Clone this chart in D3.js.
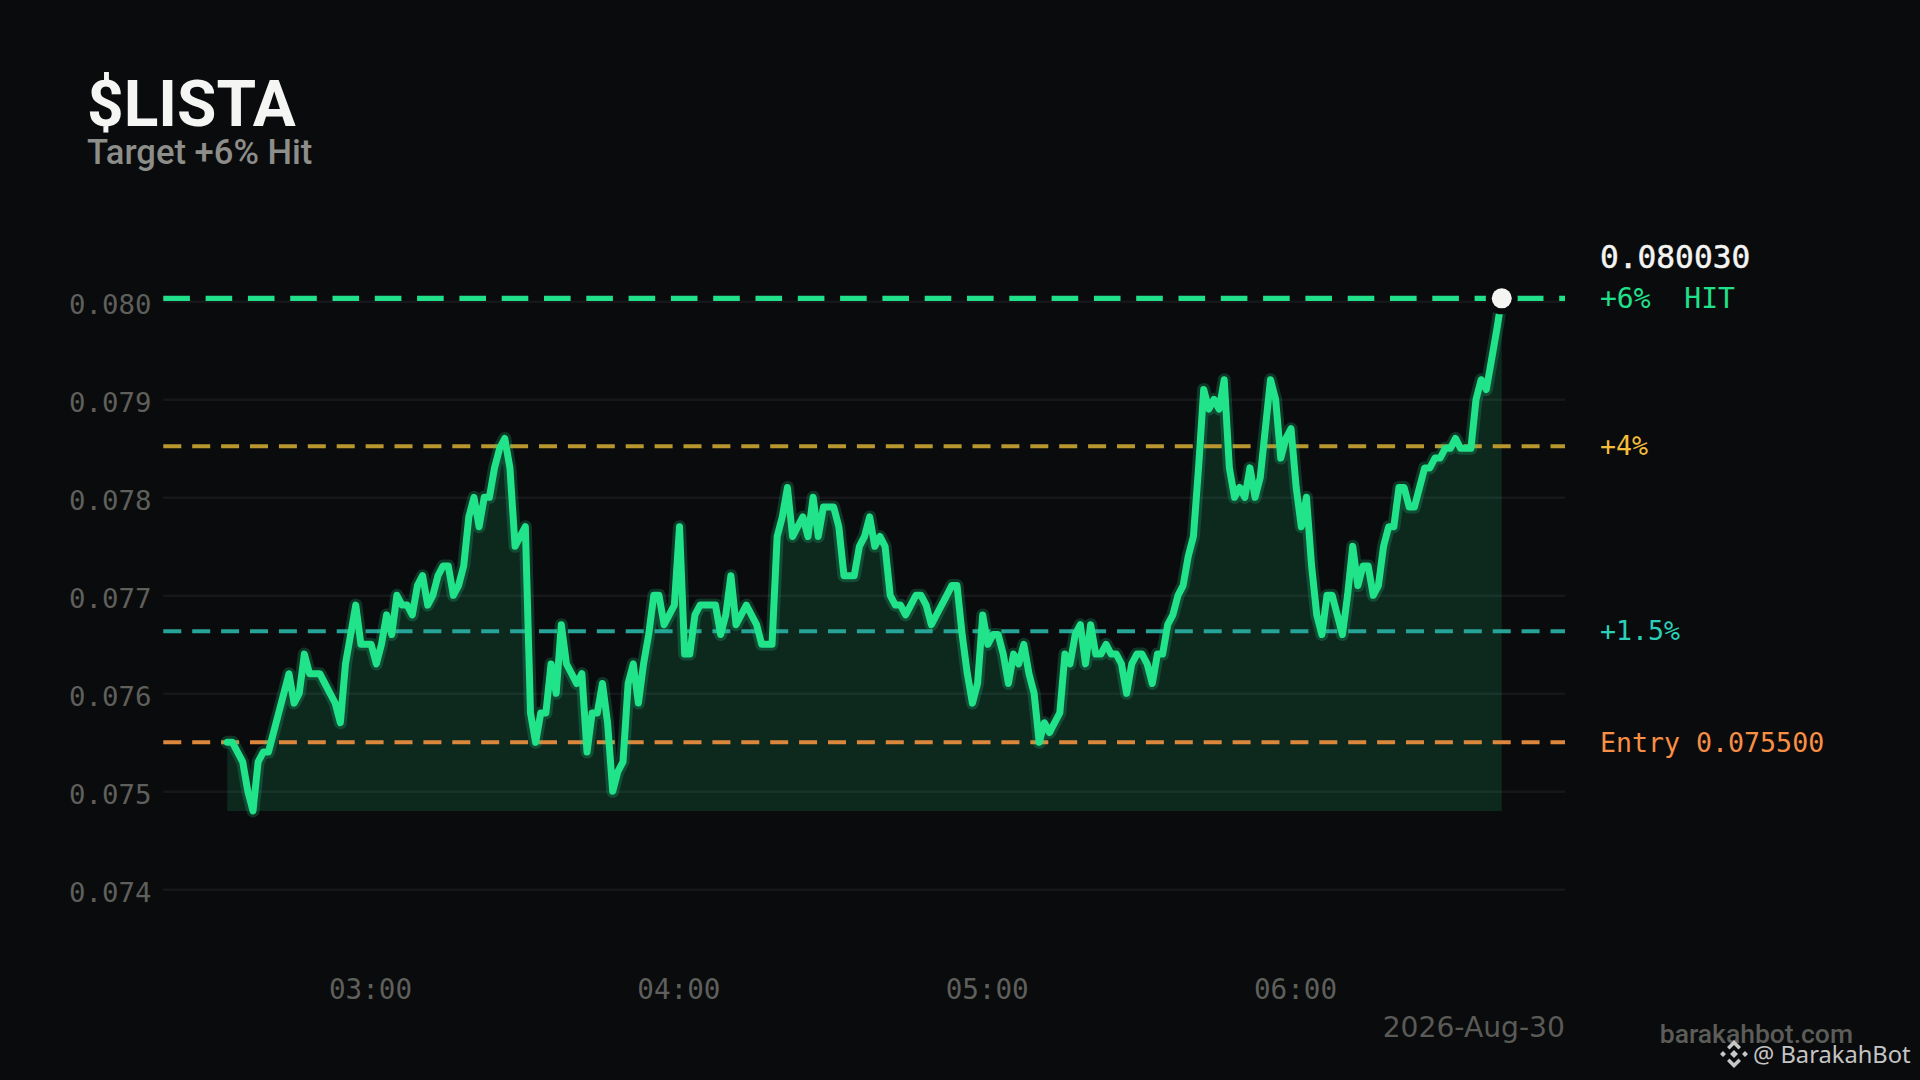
<!DOCTYPE html>
<html>
<head>
<meta charset="utf-8">
<script src="https://cdn.jsdelivr.net/npm/d3@7"></script>
<style>
  html, body { margin: 0; padding: 0; background: #0a0b0d; overflow: hidden; }
  svg { display: block; }
  .mono { font-family: "DejaVu Sans Mono", monospace; }
</style>
</head>
<body>
<svg id="chart"></svg>
<script>
// minute closes, one per minute from about 02:32
const prices = [
  .0755,.0755,.0754,.0753,.0750,.0748,.0753,.0754,.0754,.0756,
  .0758,.0760,.0762,.0759,.0760,.0764,.0762,.0762,.0762,.0761,
  .0760,.0759,.0757,.0763,.0766,.0769,.0765,.0765,.0765,.0763,
  .0765,.0768,.0766,.0770,.0769,.0769,.0768,.0771,.0772,.0769,
  .0770,.0772,.0773,.0773,.0770,.0771,.0773,.0778,.0780,.0777,
  .0780,.0780,.0783,.0785,.0786,.0783,.0775,.0776,.0777,.0758,
  .0755,.0758,.0758,.0763,.0760,.0767,.0763,.0762,.0761,.0762,
  .0754,.0758,.0758,.0761,.0757,.0750,.0752,.0753,.0761,.0763,
  .0759,.0763,.0766,.0770,.0770,.0767,.0768,.0769,.0777,.0764,
  .0764,.0768,.0769,.0769,.0769,.0769,.0766,.0768,.0772,.0767,
  .0768,.0769,.0768,.0767,.0765,.0765,.0765,.0776,.0778,.0781,
  .0776,.0777,.0778,.0776,.0780,.0776,.0779,.0779,.0779,.0777,
  .0772,.0772,.0772,.0775,.0776,.0778,.0775,.0776,.0775,.0770,
  .0769,.0769,.0768,.0769,.0770,.0770,.0769,.0767,.0768,.0769,
  .0770,.0771,.0771,.0766,.0762,.0759,.0761,.0768,.0765,.0766,
  .0766,.0764,.0761,.0764,.0763,.0765,.0762,.0760,.0755,.0757,
  .0756,.0757,.0758,.0764,.0763,.0766,.0767,.0763,.0767,.0764,
  .0764,.0765,.0764,.0764,.0763,.0760,.0763,.0764,.0764,.0763,
  .0761,.0764,.0764,.0767,.0768,.0770,.0771,.0774,.0776,.0783,
  .0791,.0789,.0790,.0789,.0792,.0783,.0780,.0781,.0780,.0783,
  .0780,.0782,.0787,.0792,.0790,.0784,.0786,.0787,.0781,.0777,
  .0780,.0773,.0768,.0766,.0770,.0770,.0768,.0766,.0770,.0775,
  .0771,.0773,.0773,.0770,.0771,.0775,.0777,.0777,.0781,.0781,
  .0779,.0779,.0781,.0783,.0783,.0784,.0784,.0785,.0785,.0786,
  .0785,.0785,.0785,.0790,.0792,.0791,.0794,.0797,.08003
];
const startMinute = 152.23;

const yTicks = [.074, .075, .076, .077, .078, .079, .080];
const xTicks = [180, 240, 300, 360];
const xTickLabels = ["03:00", "04:00", "05:00", "06:00"];

const levelValues = [.08003, .07852, .0766325, .0755];
const levelLabels = ["+6%  HIT", "+4%", "+1.5%", "Entry 0.075500"];
const levelStroke = ["#20e18a", "#b8972f", "#26a497", "#dc873c"];
const levelText = ["#20e18a", "#f3bd3c", "#2cd0b8", "#f98f44"];

const width = 1920;
const height = 1080;
const bg = "#0a0b0d";
const green = "#20e38a";

const xScale = d3.scaleLinear()
                 .domain([180, 360])
                 .range([370, 1295]);
const yScale = d3.scaleLinear()
                 .domain([.074, .080])
                 .range([889.3, 301.3]);

const svg = d3.select("#chart")
              .attr("width", width)
              .attr("height", height)
              .style("background", bg);

const left = 163.3, right = 1565;

// grid + y labels
const yAxis = d3.axisLeft(yScale)
                .tickValues(yTicks)
                .tickFormat(d3.format(".3f"))
                .tickSize(0);
const yG = svg.append("g").attr("class", "mono").call(yAxis);
yG.select(".domain").remove();
yG.selectAll("text")
  .attr("x", 151.5)
  .attr("dy", "0.43em")
  .attr("fill", "#5f5f5b")
  .style("font-size", "27.4px")
  .style("font-family", '"DejaVu Sans Mono", monospace');
yG.selectAll("line")
  .attr("x1", left)
  .attr("x2", right)
  .attr("stroke", "#16171b")
  .attr("stroke-width", 2.6);

// x labels
const xAxis = d3.axisBottom(xScale)
                .tickValues(xTicks)
                .tickFormat((d, i) => xTickLabels[i])
                .tickSize(0);
const xG = svg.append("g")
              .attr("class", "mono")
              .attr("transform", "translate(0, 999)")
              .call(xAxis);
xG.select(".domain").remove();
xG.selectAll("text")
  .attr("y", 0)
  .attr("dy", 0)
  .attr("fill", "#5f5f5b")
  .style("font-size", "27.6px")
  .style("font-family", '"DejaVu Sans Mono", monospace');

// area down to the lowest close
const px = (d, i) => xScale(startMinute + i);
const area = d3.area()
               .x(px)
               .y0(yScale(d3.min(prices)))
               .y1(d => yScale(d));
svg.append("path")
   .datum(prices)
   .attr("d", area)
   .attr("fill", green)
   .attr("fill-opacity", 0.14);

// level lines
svg.selectAll(".level")
   .data(levelValues)
   .enter()
   .append("line")
   .attr("class", "level")
   .attr("x1", left)
   .attr("x2", right)
   .attr("y1", d => yScale(d))
   .attr("y2", d => yScale(d))
   .attr("stroke", (d, i) => levelStroke[i])
   .attr("stroke-width", (d, i) => i === 0 ? 5.4 : 4)
   .attr("stroke-dasharray", (d, i) => i === 0 ? "26.6 15.7" : "18 10.9");

// price line with soft glow
const line = d3.line().x(px).y(d => yScale(d)).curve(d3.curveLinear);
svg.append("path")
   .datum(prices)
   .attr("d", line)
   .attr("fill", "none")
   .attr("stroke", green)
   .attr("stroke-opacity", 0.2)
   .attr("stroke-width", 13)
   .attr("stroke-linejoin", "round")
   .attr("stroke-linecap", "round");
svg.append("path")
   .datum(prices)
   .attr("d", line)
   .attr("fill", "none")
   .attr("stroke", green)
   .attr("stroke-width", 7)
   .attr("stroke-linejoin", "round")
   .attr("stroke-linecap", "round");

// last point
const lastI = prices.length - 1;
svg.append("circle")
   .attr("cx", px(prices[lastI], lastI))
   .attr("cy", yScale(prices[lastI]))
   .attr("r", 16)
   .attr("fill", bg);
svg.append("circle")
   .attr("cx", px(prices[lastI], lastI))
   .attr("cy", yScale(prices[lastI]))
   .attr("r", 10)
   .attr("fill", "#f4f4f2");

// right side labels
const labelSizes = [28, 26.6, 26.6, 26.6];
const labelNudge = [9.6, 8.8, 8.8, 9.4];
svg.selectAll(".level-label")
   .data(levelLabels)
   .enter()
   .append("text")
   .attr("class", "level-label mono")
   .attr("xml:space", "preserve")
   .style("white-space", "pre")
   .attr("x", 1600)
   .attr("y", (d, i) => yScale(levelValues[i]) + labelNudge[i])
   .attr("fill", (d, i) => levelText[i])
   .style("font-size", (d, i) => labelSizes[i] + "px")
   .text(d => d);

svg.append("text")
   .attr("class", "mono")
   .attr("x", 1600)
   .attr("y", 268.3)
   .attr("fill", "#f4f4f2")
   .attr("stroke", "#f4f4f2")
   .attr("stroke-width", 0.5)
   .style("font-size", "31.2px")
   .text(d3.format(".6f")(prices[lastI]));

// title
svg.append("text")
   .attr("x", 87)
   .attr("y", 126)
   .attr("fill", "#f5f5f3")
   .style("font-family", "Roboto")
   .style("font-weight", 700)
   .style("font-size", "64px")
   .text("$LISTA");
svg.append("text")
   .attr("x", 87)
   .attr("y", 164)
   .attr("fill", "#8d8d89")
   .style("font-family", "Roboto")
   .style("font-weight", 500)
   .style("font-size", "34.6px")
   .text("Target +6% Hit");

// footer
svg.append("text")
   .attr("x", 1565)
   .attr("y", 1037)
   .attr("text-anchor", "end")
   .attr("fill", "#5a5a56")
   .style("font-family", "DejaVu Sans")
   .style("font-size", "28.2px")
   .text("2026-Aug-30");
svg.append("text")
   .attr("x", 1853)
   .attr("y", 1043)
   .attr("text-anchor", "end")
   .attr("fill", "#5c5c58")
   .style("font-family", "Roboto")
   .style("font-weight", 500)
   .style("font-size", "26.5px")
   .text("barakahbot.com");
svg.append("text")
   .attr("x", 1753)
   .attr("y", 1063)
   .attr("fill", "#c4c4c4")
   .style("font-family", "Noto Sans")
   .style("font-size", "23.7px")
   .text("@ BarakahBot");

// exchange mark next to the handle
const mark = svg.append("g").attr("transform", "translate(1734, 1054)").attr("fill", "#c8c8c8");
const diamond = (cx, cy, r) => `M${cx} ${cy - r}L${cx + r} ${cy}L${cx} ${cy + r}L${cx - r} ${cy}Z`;
mark.append("path").attr("d", [[0, 0, 4], [-11, 0, 3], [11, 0, 3]].map(d => diamond(...d)).join(""));
mark.append("path").attr("d", "M0 -14L7 -7L4.5 -4.5L0 -9L-4.5 -4.5L-7 -7Z");
mark.append("path").attr("d", "M0 14L7 7L4.5 4.5L0 9L-4.5 4.5L-7 7Z");
</script>
</body>
</html>
